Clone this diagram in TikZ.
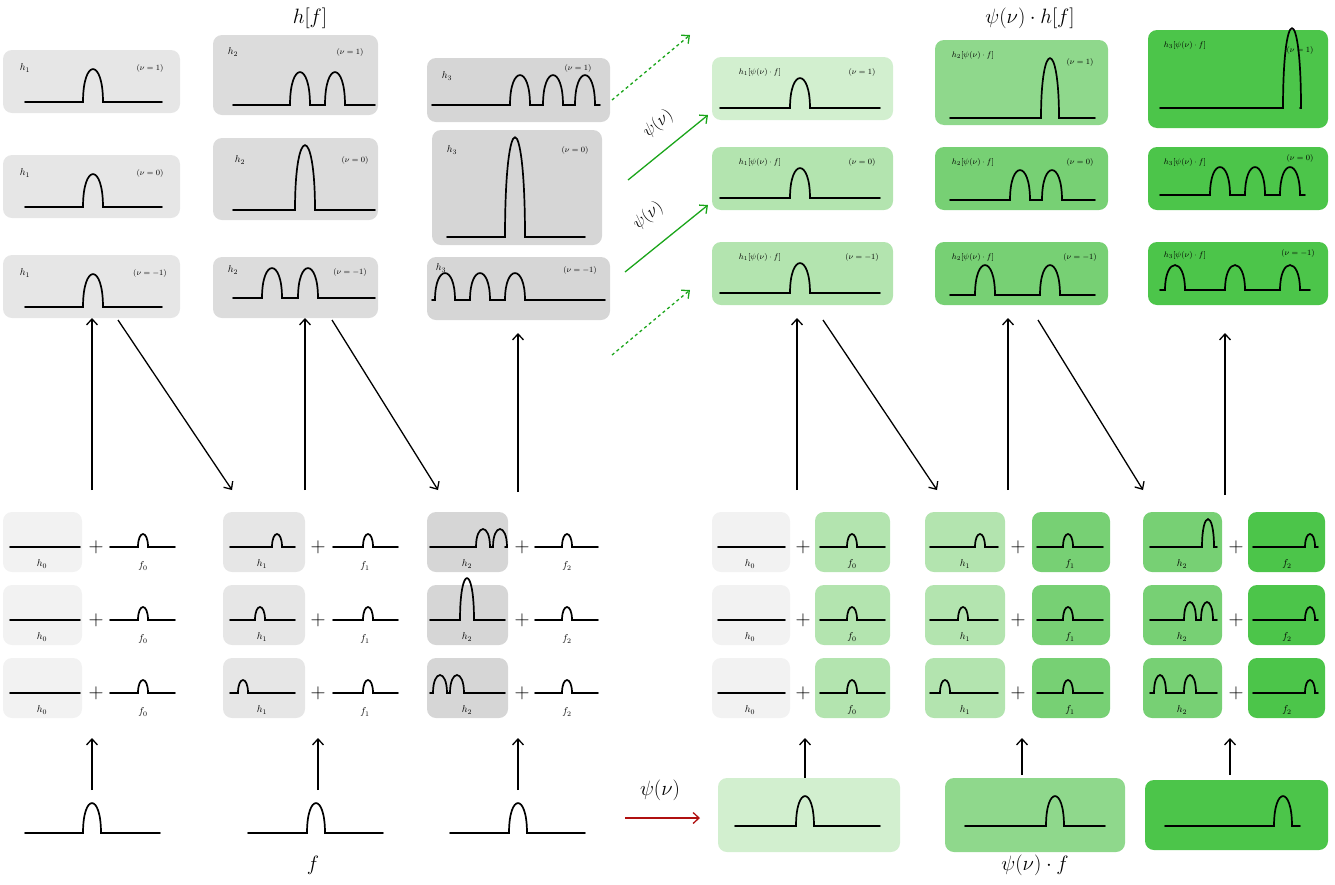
\documentclass[tikz,border=0pt]{standalone}
\usepackage{amsmath}
\usetikzlibrary{arrows.meta}
\begin{document}
\begin{tikzpicture}[x=1pt,y=-1pt,
 sig/.style={line width=1.7pt,line cap=round},
 box/.style={rounded corners=9pt},
 arr/.style={-{Straight Barb[length=6pt,width=11pt]},line width=1.3pt},
 lab/.style={font=\fontsize{10}{12}\selectfont},
 nu/.style={font=\fontsize{8}{10}\selectfont},
 pl/.style={font=\fontsize{22}{24}\selectfont},
 ttl/.style={font=\fontsize{20}{24}\selectfont}]
\definecolor{g0}{HTML}{F2F2F2}\definecolor{g1}{HTML}{E6E6E6}\definecolor{g2}{HTML}{DCDCDC}\definecolor{g3}{HTML}{D6D6D6}
\definecolor{ga}{HTML}{D2EFCF}\definecolor{gb}{HTML}{B3E4AF}\definecolor{gc}{HTML}{8FD88C}\definecolor{gd}{HTML}{77D074}\definecolor{ge}{HTML}{4CC54A}
\definecolor{gr}{HTML}{1AA51A}\definecolor{rd}{HTML}{B01010}
\newcommand\sg[6]{\draw[sig] (#1,#3) foreach \c in {#4}{ -- (\c-#5,#3) .. controls (\c-#5,#3-1.33*#6) and (\c+#5,#3-1.33*#6) .. (\c+#5,#3)} -- (#2,#3);}
\newcommand\lrow[5]{%
 \fill[g0,box] (3,#1-35) rectangle (82,#1+25); \draw[sig] (10,#1) -- (80,#1); \node[lab] at (42,#1+17) {$h_0$};
 \node[pl] at (96,#1) {$+$};
 \sg{110}{175}{#1}{143}{5}{13} \node[lab] at (143,#1+19) {$f_0$};
 \fill[g1,box] (223,#1-35) rectangle (305,#1+25); \sg{230}{295}{#1}{#2}{5}{13} \node[lab] at (262,#1+17) {$h_1$};
 \node[pl] at (318,#1) {$+$};
 \sg{333}{398}{#1}{368}{5}{13} \node[lab] at (365,#1+19) {$f_1$};
 \fill[g3,box] (427,#1-35) rectangle (508,#1+25); \sg{430}{505}{#1}{#3}{#5}{#4} \node[lab] at (467,#1+17) {$h_2$};
 \node[pl] at (522,#1) {$+$};
 \sg{535}{598}{#1}{567}{5}{13} \node[lab] at (567,#1+19) {$f_2$};}
\newcommand\rrow[5]{%
 \fill[g0,box] (712,#1-35) rectangle (790,#1+25); \draw[sig] (718,#1) -- (785,#1); \node[lab] at (750,#1+17) {$h_0$};
 \node[pl] at (803,#1) {$+$};
 \fill[gb,box] (815,#1-35) rectangle (890,#1+25); \sg{820}{885}{#1}{852}{5}{13} \node[lab] at (852,#1+17) {$f_0$};
 \fill[gb,box] (925,#1-35) rectangle (1005,#1+25); \sg{930}{998}{#1}{#2}{5}{13} \node[lab] at (965,#1+17) {$h_1$};
 \node[pl] at (1018,#1) {$+$};
 \fill[gd,box] (1032,#1-35) rectangle (1110,#1+25); \sg{1037}{1103}{#1}{1068}{5}{13} \node[lab] at (1070,#1+17) {$f_1$};
 \fill[gd,box] (1143,#1-35) rectangle (1222,#1+25); \sg{1150}{1217}{#1}{#3}{#5}{#4} \node[lab] at (1182,#1+17) {$h_2$};
 \node[pl] at (1236,#1) {$+$};
 \fill[ge,box] (1248,#1-35) rectangle (1325,#1+25); \sg{1253}{1318}{#1}{1310}{5}{13} \node[lab] at (1287,#1+17) {$f_2$};}
\useasboundingbox (0,0) rectangle (1335,884);
\node[ttl] (t1) at (310,18) {$h[f]$};
\node[ttl] (t2) at (1030,18) {$\psi(\nu)\cdot h[f]$};
% ---------- left top
\foreach \y/\nv in {50/{=1},155/{=0},255/{=-1}}{
 \fill[g1,box] (3,\y) rectangle (180,\y+63);
 \node[lab] at (25,\y+18) {$h_1$};
 \node[nu] at (150,\y+18) {$(\nu\nv)$};
 \sg{25}{162}{\y+52}{93}{10}{33}}
\fill[g2,box] (213,35) rectangle (378,115); \node[lab] at (233,52) {$h_2$}; \node[nu] at (350,52) {$(\nu=1)$}; \sg{233}{375}{105}{300,335}{10}{33}
\fill[g2,box] (213,138) rectangle (378,220); \node[lab] at (240,160) {$h_2$}; \node[nu] at (355,160) {$(\nu=0)$}; \sg{233}{375}{210}{305}{10}{65}
\fill[g2,box] (213,257) rectangle (378,318); \node[lab] at (233,270) {$h_2$}; \node[nu] at (350,272) {$(\nu=-1)$}; \sg{233}{375}{298}{272,308}{10}{30}
\fill[g3,box] (427,58) rectangle (610,122); \node[lab] at (447,76) {$h_3$}; \node[nu] at (578,68) {$(\nu=1)$}; \sg{432}{600}{105}{520,553,585}{10}{30}
\fill[g3,box] (432,130) rectangle (602,245); \node[lab] at (452,150) {$h_3$}; \node[nu] at (575,150) {$(\nu=0)$}; \sg{447}{585}{237}{515}{10}{100}
\fill[g3,box] (427,257) rectangle (610,320); \node[lab] at (441,268) {$h_3$}; \node[nu] at (580,270) {$(\nu=-1)$}; \sg{432}{605}{300}{445,480,515}{10}{27}
\draw[arr] (92,490) -- (92,318); \draw[arr] (118,320) -- (232,490);
\draw[arr] (305,490) -- (305,318); \draw[arr] (332,320) -- (438,490);
\draw[arr] (518,492) -- (518,333);
% ---------- left bottom rows
\lrow{547}{277}{483,500}{18}{7}
\lrow{620}{260}{467}{42}{7}
\lrow{693}{243}{440,457}{18}{7}
\foreach \x in {92,318,518}{\draw[arr] (\x,790) -- (\x,738);}
\sg{25}{160}{833}{92}{9}{30} \sg{248}{383}{833}{316}{9}{30} \sg{450}{585}{833}{518}{9}{30}
\node[ttl] at (313,865) {$f$};
\draw[arr,rd] (625,818) -- (700,818); \node[ttl] at (660,790) {$\psi(\nu)$};
\draw[arr,gr,dashed] (612,100) -- (690,35);
\draw[arr,gr,dashed] (612,355) -- (690,290);
\draw[arr,gr] (628,180) -- (708,115); \node[font=\fontsize{18}{20}\selectfont,rotate=39] at (658,124) {$\psi(\nu)$};
\draw[arr,gr] (625,272) -- (708,205); \node[font=\fontsize{18}{20}\selectfont,rotate=39] at (648,216) {$\psi(\nu)$};
% ---------- right top
\foreach \y/\nv/\c in {57/{=1}/ga,147/{=0}/gb,242/{=-1}/gb}{
 \fill[\c,box] (712,\y) rectangle (893,\y+63);
 \node[nu] at (760,\y+15) {$h_1[\psi(\nu)\cdot f]$};
 \node[nu] at (862,\y+15) {$(\nu\nv)$};
 \sg{720}{880}{\y+51}{800}{10}{30}}
\fill[gc,box] (935,40) rectangle (1108,125); \node[nu] at (973,55) {$h_2[\psi(\nu)\cdot f]$}; \node[nu] at (1080,62) {$(\nu=1)$}; \sg{950}{1095}{118}{1050}{9}{60}
\fill[gd,box] (935,147) rectangle (1108,210); \node[nu] at (973,162) {$h_2[\psi(\nu)\cdot f]$}; \node[nu] at (1080,162) {$(\nu=0)$}; \sg{950}{1095}{200}{1020,1052}{10}{30}
\fill[gd,box] (935,242) rectangle (1108,305); \node[nu] at (973,257) {$h_2[\psi(\nu)\cdot f]$}; \node[nu] at (1080,257) {$(\nu=-1)$}; \sg{950}{1095}{295}{985,1050}{10}{30}
\fill[ge,box] (1148,30) rectangle (1328,128); \node[nu] at (1185,45) {$h_3[\psi(\nu)\cdot f]$}; \node[nu] at (1300,50) {$(\nu=1)$}; \sg{1160}{1300}{108}{1292}{9}{80}
\fill[ge,box] (1148,147) rectangle (1328,210); \node[nu] at (1185,162) {$h_3[\psi(\nu)\cdot f]$}; \node[nu] at (1300,158) {$(\nu=0)$}; \sg{1160}{1305}{195}{1220,1255,1290}{10}{28}
\fill[ge,box] (1148,242) rectangle (1328,305); \node[nu] at (1185,255) {$h_3[\psi(\nu)\cdot f]$}; \node[nu] at (1298,253) {$(\nu=-1)$}; \sg{1160}{1310}{290}{1175,1235,1290}{10}{25}
\draw[arr] (797,490) -- (797,318); \draw[arr] (823,320) -- (937,490);
\draw[arr] (1008,490) -- (1008,318); \draw[arr] (1038,320) -- (1143,490);
\draw[arr] (1225,495) -- (1225,333);
% ---------- right bottom rows
\rrow{547}{980}{1208}{28}{6}
\rrow{620}{963}{1190,1207}{18}{6}
\rrow{693}{945}{1160,1190}{18}{6}
\draw[arr] (805,780) -- (805,738); \draw[arr] (1022,775) -- (1022,738); \draw[arr] (1230,775) -- (1230,738);
\fill[ga,box] (718,778) rectangle (900,852); \sg{735}{880}{826}{805}{9}{30}
\fill[gc,box] (945,778) rectangle (1125,852); \sg{965}{1105}{826}{1055}{9}{30}
\fill[ge,box] (1145,780) rectangle (1328,850); \sg{1165}{1300}{826}{1283}{9}{30}
\node[ttl] at (1035,865) {$\psi(\nu)\cdot f$};
\end{tikzpicture}
\end{document}
